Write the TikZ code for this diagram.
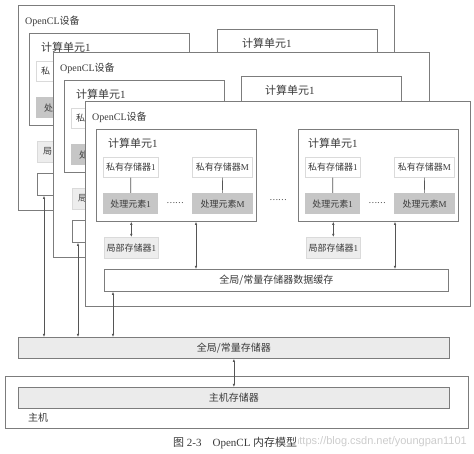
\documentclass[tikz,border=0pt]{standalone}
\usepackage{fontspec}
\setmainfont{Liberation Serif}
\newfontfamily\cjk{Noto Sans CJK SC}
\newfontfamily\wmfont{Liberation Sans}
\usetikzlibrary{arrows.meta}
\definecolor{edge}{HTML}{7C7C7C}
\definecolor{privedge}{HTML}{DADADA}
\definecolor{pefill}{HTML}{C6C6C6}
\definecolor{lmfill}{HTML}{EDEDED}
\definecolor{memfill}{HTML}{EBEBEB}
\definecolor{txt}{HTML}{3A3A3A}
\definecolor{arrc}{HTML}{555555}
\tikzset{
  lbl/.style={font=\fontsize{10}{12}\selectfont, text=txt, inner sep=0pt},
  culbl/.style={font=\fontsize{11}{13}\selectfont, text=txt, inner sep=0pt},
  smalltxt/.style={font=\fontsize{9}{11}\selectfont, text=txt, inner sep=0pt},
  dots/.style={font=\cjk\fontsize{8}{10}\selectfont, text=txt, inner sep=0pt},
  devbox/.style={draw=edge, line width=0.8pt, fill=white, minimum height=205, inner sep=0pt},
  cubox/.style={draw=edge, line width=0.8pt, fill=white, minimum width=160, minimum height=92, inner sep=0pt},
  privbox/.style={draw=privedge, line width=0.6pt, fill=white, minimum height=20, inner sep=0pt, font=\fontsize{9}{11}\selectfont, text=txt},
  pebox/.style={fill=pefill, minimum height=21, inner sep=0pt, font=\fontsize{9}{11}\selectfont, text=txt},
  localbox/.style={draw=privedge, line width=0.6pt, fill=lmfill, minimum width=54, minimum height=21, inner sep=0pt, font=\fontsize{9}{11}\selectfont, text=txt},
  cachebox/.style={draw=edge, line width=0.8pt, fill=white, minimum width=344, minimum height=22, inner sep=0pt, font=\fontsize{10}{12}\selectfont, text=txt},
  membox/.style={draw=edge, line width=0.8pt, fill=memfill, minimum width=431, minimum height=21, inner sep=0pt, font=\fontsize{10}{12}\selectfont, text=txt},
  hostbox/.style={draw=edge, line width=0.8pt, fill=white, minimum width=463, minimum height=52, inner sep=0pt},
  link/.style={draw=arrc, line width=0.6pt},
  arr/.style={draw=arrc, line width=0.6pt, {Latex[length=3.2pt,width=2.6pt]}-{Latex[length=3.2pt,width=2.6pt]}},
  wm/.style={font=\wmfont\fontsize{11}{13}\selectfont, text=black!20, inner sep=0pt},
}
% full compute unit (front device)
\newcommand\cuunit[4]{%
  \node[cubox, anchor=north west] (#1) at (#2,#3) {};
  \node[culbl, anchor=west] (#1t) at ([shift={(#4,14)}]#1.north west) {{\cjk 计算单元}1};
  \node[privbox, anchor=north west, minimum width=55] (#1p1) at ([shift={(7,28)}]#1.north west) {{\cjk 私有存储器}1};
  \node[privbox, anchor=north west, minimum width=60] (#1pm) at ([shift={(96,28)}]#1.north west) {{\cjk 私有存储器}M};
  \node[pebox, anchor=north west, minimum width=55] (#1e1) at ([shift={(7,64)}]#1.north west) {{\cjk 处理元素}1};
  \node[pebox, anchor=north west, minimum width=61] (#1em) at ([shift={(96,64)}]#1.north west) {{\cjk 处理元素}M};
  \node[dots] (#1d) at ([shift={(79,74)}]#1.north west) {……};
  \draw[link] (#1p1) -- (#1e1);
  \draw[link] (#1pm) -- (#1em);
  \node[localbox, anchor=north west] (#1l) at ([shift={(8,108)}]#1.north west) {{\cjk 局部存储器}1};
  \draw[arr] (#1l.north |- #1.south) -- (#1l.north);
}
% front device
\newcommand\opencldev[7]{%
  \node[devbox, anchor=north west, minimum width=#4] (#1) at (#2,#3) {};
  \node[lbl, anchor=west] (#1t) at ([shift={(7,16)}]#1.north west) {OpenCL{\cjk 设备}};
  \cuunit{#1a}{#2+11}{#3+28}{12}
  \cuunit{#1b}{#2+#5}{#3+#6}{#7}
  \node[dots] (#1d) at ([shift={(193,99)}]#1.north west) {……};
  \node[cachebox, anchor=north west] (#1c) at ([shift={(19,168)}]#1.north west) {{\cjk 全局/常量存储器数据缓存}};
  \draw[arr] ([xshift=100]#1a.south west) coordinate (#1xa) -- (#1xa |- #1c.north);
  \draw[arr] ([xshift=97]#1b.south west) coordinate (#1xb) -- (#1xb |- #1c.north);
}
% back device: only the parts that stay visible
\newcommand\backdev[7]{%
  \node[devbox, anchor=north west, minimum width=#4] (#1) at (#2,#3) {};
  \node[lbl, anchor=west] (#1t) at ([shift={(7,16)}]#1.north west) {OpenCL{\cjk 设备}};
  \node[cubox, anchor=north west] (#1a) at (#2+11,#3+28) {};
  \node[culbl, anchor=west] (#1at) at ([shift={(12,14)}]#1a.north west) {{\cjk 计算单元}1};
  \node[privbox, anchor=north west, minimum width=55] (#1ap) at ([shift={(7,28)}]#1a.north west) {};
  \node[smalltxt, anchor=west] (#1apt) at ([xshift=5]#1ap.west) {{\cjk 私}};
  \node[pebox, anchor=north west, minimum width=55] (#1ae) at ([shift={(7,64)}]#1a.north west) {};
  \node[smalltxt, anchor=west] (#1aet) at ([xshift=8]#1ae.west) {{\cjk 处}};
  \node[localbox, anchor=north west] (#1al) at ([shift={(8,108)}]#1a.north west) {};
  \node[smalltxt, anchor=west] (#1alt) at ([xshift=6]#1al.west) {{\cjk 局}};
  \node[cachebox, anchor=north west] (#1c) at ([shift={(19,168)}]#1.north west) {};
  \node[cubox, anchor=north west] (#1b) at (#2+#5,#3+#6) {};
  \node[culbl, anchor=west] (#1bt) at ([shift={(#7,14)}]#1b.north west) {{\cjk 计算单元}1};
}
\begin{document}
\begin{tikzpicture}[x=1pt,y=-1pt]
\useasboundingbox (0,0) rectangle (474,454);
\backdev{d1}{18}{5}{376}{199}{24}{25}
\backdev{d2}{53}{52}{376}{188}{24}{24}
\opencldev{d3}{85}{101}{385}{213}{28}{10}
\node[membox, anchor=north west] (glob) at (18,337) {{\cjk 全局/常量存储器}};
\draw[arr] ([xshift=7]d1c.south west) coordinate (q1) -- (q1 |- glob.north);
\draw[arr] ([xshift=6]d2c.south west) coordinate (q2) -- (q2 |- glob.north);
\draw[arr] ([xshift=9]d3c.south west) coordinate (q3) -- (q3 |- glob.north);
\node[hostbox, anchor=north west] (host) at (5,376) {};
\node[membox, anchor=north west] (hmem) at (18,387) {{\cjk 主机存储器}};
\node[lbl, anchor=west] (hlbl) at (28,418) {{\cjk 主机}};
\draw[arr] (glob.south) -- (hmem.north);
\node[wm, anchor=east] (wmk) at (467,442) {https://blog.csdn.net/youngpan1101};
\node[lbl, font=\fontsize{11}{13}\selectfont, fill=white, inner sep=1pt, anchor=west] (cap) at (172,443) {{\cjk 图} 2-3\quad OpenCL {\cjk 内存模型}};
\end{tikzpicture}
\end{document}
